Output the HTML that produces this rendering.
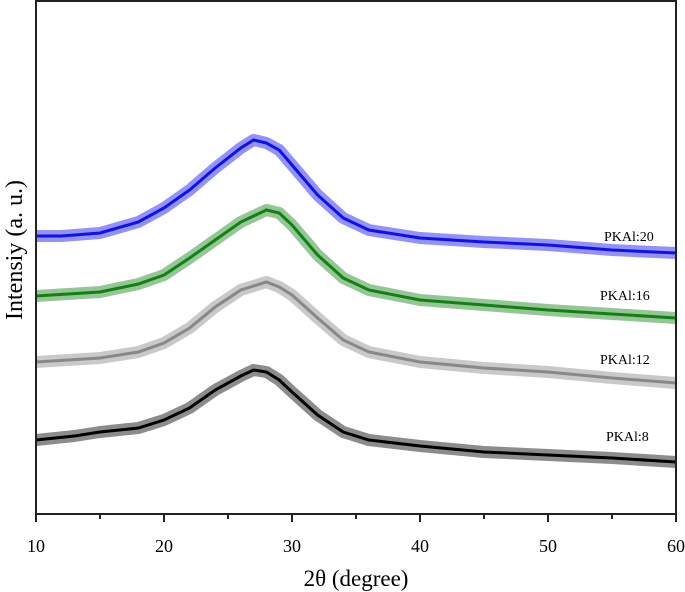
<!DOCTYPE html>
<html><head><meta charset="utf-8"><style>
body{margin:0;background:#fff}
svg{display:block;font-family:"Liberation Serif",serif}
</style></head><body>
<svg id="chart" width="685" height="592" viewBox="0 0 685 592">
<g id="plot"></g>
<g id="axes"></g>
<text x="356" y="586" font-size="23" text-anchor="middle">2θ (degree)</text>
<text transform="translate(22,250) rotate(-90)" font-size="24" text-anchor="middle">Intensiy (a. u.)</text>
</svg>
<script>
const xTicks=[10,20,30,40,50,60];
const seriesNames=["PKAl:20","PKAl:16","PKAl:12","PKAl:8"];
const seriesColors=["#1010ee","#138013","#888888","#000000"];
const xBlue=[10,12,15,18,20,22,24,26,27,28,29,30,32,34,36,40,45,50,55,60];
const yBlue=[278,278,281,292,306,324,346,366,374,371,364,349,319,296,284,276,272,269,264,261];
const xGreen=[10,15,18,20,22,24,26,28,29,30,32,34,36,40,45,50,55,60];
const yGreen=[218,222,230,239,256,274,292,304,301,289,259,236,224,214,209,204,200,196];
const xGray=[10,15,18,20,22,24,26,28,29,30,32,34,36,40,45,50,55,60];
const yGray=[152,156,162,171,186,207,224,232,227,219,196,174,162,152,146,142,136,131];
const xBlack=[10,13,15,18,20,22,24,26,27,28,29,30,32,34,36,40,45,50,55,60];
const yBlack=[74,78,82,86,94,106,124,138,144,142,134,122,99,82,74,68,62,59,56,52];
const labelPos=[[604,241],[600,300],[600,364],[606,441]];

const X0=36,X1=676,Y0=514,Y1=1;
const sx=v=>X0+(v-10)/50*(X1-X0);
const sy=v=>Y0-v;
const NS="http://www.w3.org/2000/svg";
const plot=document.getElementById('plot'),axes=document.getElementById('axes');
const xs=[xBlue,xGreen,xGray,xBlack],ys=[yBlue,yGreen,yGray,yBlack];
const keys=["blue","green","gray","black"];
xs.forEach((xa,i)=>{
  const d=xa.map((x,j)=>(j?'L':'M')+sx(x).toFixed(1)+','+sy(ys[i][j]).toFixed(1)).join(' ');
  const band=document.createElementNS(NS,'path');
  
  
  band.setAttribute('d',d);band.setAttribute('fill','none');band.setAttribute('stroke',seriesColors[i]);
  band.setAttribute('stroke-width','12');band.setAttribute('stroke-opacity','0.45');band.setAttribute('stroke-linejoin','round');
  plot.appendChild(band);
  const p=document.createElementNS(NS,'path');
  
  
  p.setAttribute('d',d);p.setAttribute('fill','none');p.setAttribute('stroke',seriesColors[i]);p.setAttribute('stroke-width','3');
  plot.appendChild(p);
  const t=document.createElementNS(NS,'text');
  
  
  t.setAttribute('x',labelPos[i][0]);t.setAttribute('y',labelPos[i][1]);t.setAttribute('font-size','14');
  t.textContent=seriesNames[i];plot.appendChild(t);
});
const frame=document.createElementNS(NS,'rect');


frame.setAttribute('x',X0);frame.setAttribute('y',Y1);frame.setAttribute('width',X1-X0);frame.setAttribute('height',Y0-Y1);
frame.setAttribute('fill','none');frame.setAttribute('stroke','#222');frame.setAttribute('stroke-width','2');
axes.appendChild(frame);
for(let v=10;v<=60;v+=5){
  const l=document.createElementNS(NS,'line');
  
  
  l.setAttribute('x1',sx(v));l.setAttribute('x2',sx(v));l.setAttribute('y1',Y0);l.setAttribute('y2',Y0+(v%10?5:8));
  l.setAttribute('stroke','#222');l.setAttribute('stroke-width','2');axes.appendChild(l);
}
xTicks.forEach(v=>{
  const t=document.createElementNS(NS,'text');
  
  
  t.setAttribute('x',sx(v));t.setAttribute('y',552);t.setAttribute('font-size','18');t.setAttribute('text-anchor','middle');
  t.textContent=v;axes.appendChild(t);
});
</script>
</body></html>
